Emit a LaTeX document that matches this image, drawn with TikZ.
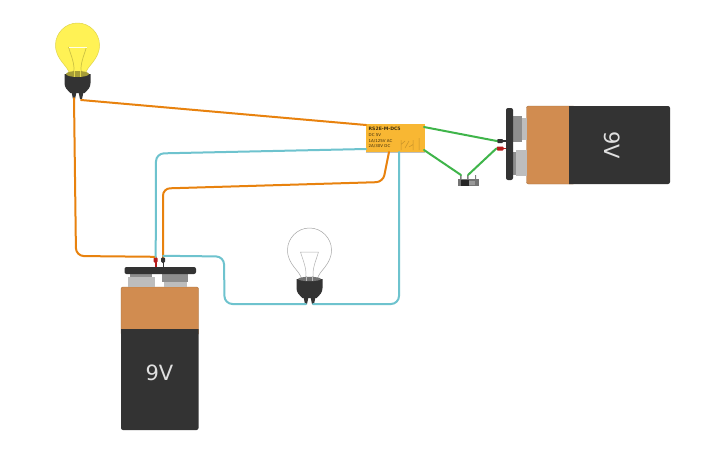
\documentclass[tikz,border=0pt]{standalone}
\usepackage{fontspec}
\setmainfont{DejaVu Sans}
\definecolor{wireO}{HTML}{E8820E}
\definecolor{wireT}{HTML}{6EC3CE}
\definecolor{wireG}{HTML}{3FB54A}
\definecolor{batDark}{HTML}{333333}
\definecolor{batTan}{HTML}{D18C50}
\definecolor{relayC}{HTML}{F8B733}
\definecolor{termA}{HTML}{8E8E8E}
\definecolor{termB}{HTML}{BDBDBD}
\definecolor{bulbY}{HTML}{FFF255}
\definecolor{redT}{HTML}{B71C1C}
\tikzset{
  wire/.style={line width=2pt,rounded corners=8pt,line cap=round},
  o/.style={wire,draw=wireO},
  t/.style={wire,draw=wireT},
  g/.style={wire,draw=wireG,rounded corners=0pt},
  lab/.style={inner sep=0pt,text=relayT,font=\fontsize{4}{4.6}\selectfont,anchor=west},
  batlab/.style={inner sep=0pt,text=white!88!black,font=\fontsize{21}{21}\selectfont},
  pt/.style={inner sep=0pt,minimum size=0pt},
}
\colorlet{relayT}{black!75!relayC}
\newcommand{\glassPath}{(-8,0) .. controls (-9,-8) and (-22,-14) .. (-22,-29) .. controls (-22,-41) and (-12,-51) .. (0,-51) .. controls (12,-51) and (22,-41) .. (22,-29) .. controls (22,-14) and (9,-8) .. (8,0)}
\newcommand{\filamentL}{(-4,2) -- (-3.5,-6) .. controls (-4,-14) and (-7,-20) .. (-9,-27)}
\newcommand{\filamentR}{(4,2) -- (3.5,-6) .. controls (4,-14) and (7,-20) .. (9,-27)}
\newcommand{\socketPath}{(-13,0) -- (13,0) -- (13,9) .. controls (13,14) and (10,16) .. (7,19) -- (-7,19) .. controls (-10,16) and (-13,14) .. (-13,9) -- cycle}
\begin{document}
\begin{tikzpicture}[x=1pt,y=-1pt]
\useasboundingbox (0,0) rectangle (725,453);
\fill[white] (0,0) rectangle (725,453);

% ---- yellow lamp
\begin{scope}[shift={(77.5,74)}]
  \fill[bulbY,draw=black!12!bulbY,line width=.5pt] \glassPath -- cycle;
  \draw[black!20!bulbY,line width=.7pt] \filamentL \filamentR;
  \draw[white!85!bulbY,line width=.7pt] (-9,-27) -- (9,-27);
  \fill[batDark] \socketPath;
  \fill[black!35!bulbY] (0,0) ellipse (11.5 and 3);
  \draw[black!10!bulbY,line width=.6pt] (-3,2.8) -- (-3,-3) (3,2.8) -- (3,-3);
  \fill[batDark] (-6,18) -- (-1,18) -- (-2.5,25) -- (-4.5,25) -- cycle;
  \fill[batDark] (1,18) -- (6,18) -- (4.5,25) -- (2.5,25) -- cycle;
\end{scope}
\coordinate (lampYa) at (74,98);
\coordinate (lampYb) at (81,100);

% ---- white lamp
\begin{scope}[shift={(309.5,279)}]
  \draw[black!35,line width=.5pt] \glassPath;
  \draw[black!30,line width=.5pt] \filamentL -- (9,-27) (4,2) -- (3.5,-6) .. controls (4,-14) and (7,-20) .. (9,-27);
  \fill[batDark] \socketPath;
  \fill[black!55] (0,0) ellipse (11.5 and 2.2);
  \draw[black!25,line width=.5pt] (-3,1.5) -- (-3,-3) (3,1.5) -- (3,-3);
  \fill[batDark] (-6,18) -- (-1,18) -- (-2.5,25) -- (-4.5,25) -- cycle;
  \fill[batDark] (1,18) -- (6,18) -- (4.5,25) -- (2.5,25) -- cycle;
\end{scope}
\coordinate (lampWa) at (306,304);
\coordinate (lampWb) at (313,304);

% ---- bottom battery
\fill[batTan,draw=black!20!batTan,line width=.4pt,rounded corners=2pt] (121,287) rectangle (198.5,335);
\fill[batDark] (121,329) -- (198.5,329) [rounded corners=2pt] -- (198.5,430) -- (121,430) [sharp corners] -- cycle;
\fill[termB] (128,277) rectangle (155,287);
\fill[termA] (130,274) rectangle (152,277);
\fill[termB] (164,282) rectangle (187,287);
\fill[termA] (162,273) rectangle (188,282);
\fill[batDark,rounded corners=2pt] (124.5,267) rectangle (196,274);
\node[batlab] (batB) at (159.5,373) {9V};
\fill[redT] (155,262) rectangle (157,267);
\fill[batDark] (162.5,262) rectangle (164,267);
\node[pt,fill=redT,minimum width=4pt,minimum height=6pt,rounded corners=1.5pt] (termR) at (155.7,260) {};
\node[pt,fill=batDark,minimum width=4pt,minimum height=6pt,rounded corners=1.5pt] (termK) at (163.2,260) {};

% ---- right battery
\fill[batTan,draw=black!20!batTan,line width=.4pt,rounded corners=2pt] (526.5,106) rectangle (575,184);
\fill[batDark] (569,184) -- (569,106) [rounded corners=2pt] -- (670,106) -- (670,184) [sharp corners] -- cycle;
\fill[termB] (522,118) rectangle (527,140);
\fill[termA] (513,116) rectangle (522,142);
\fill[termB] (516,150) rectangle (527,176);
\fill[termA] (513,152) rectangle (516,175);
\fill[batDark,rounded corners=2pt] (506,108) rectangle (513,180);
\node[batlab,rotate=-90] (batR) at (612,145) {9V};
\fill[batDark] (501,140.2) rectangle (506,141.6);
\fill[redT] (501,147.6) rectangle (506,149.4);
\node[pt,fill=batDark,minimum width=6pt,minimum height=4pt,rounded corners=1pt] (termRk) at (500,141) {};
\node[pt,fill=redT,minimum width=7pt,minimum height=4pt,rounded corners=1pt] (termRr) at (500,148.5) {};

% ---- slide switch
\fill[black!50] (460,175) rectangle (461.5,179) (467,175) rectangle (468.5,179) (475,175) rectangle (476,179);
\node[pt,fill=black!55,minimum width=21pt,minimum height=7pt] (sw) at (468.5,182.5) {};
\fill[black!85] (461,180) rectangle (469,185.5);
\fill[black!40] (469,180.5) rectangle (475,185);
\coordinate (swA) at (461,175);
\coordinate (swB) at (468,175);

% ---- relay
\node[pt,fill=relayC,minimum width=59pt,minimum height=29pt,anchor=north west] (relay) at (365.5,123.5) {};
\draw[black!25,line width=.4pt] (365.5,152.5) -- (424.5,152.5);
\node[lab,font=\bfseries\fontsize{4.6}{5}\selectfont] at (368.5,129) {RS2E-M-DC5};
\node[lab] at (368.5,135.5) {DC 5V};
\node[lab] at (368.5,141) {1A/125V AC};
\node[lab] at (368.5,146.5) {2A/30V  DC};
\draw[black!20!relayC,line width=.5pt] (401,140) -- (401,150) (413,140) -- (413,150) (401,144.5) -- (405,141) (405,148) -- (409,141) (409,147) -- (413,144.5) (419,138) -- (419,150);
\coordinate (relayTL) at (366,125);
\coordinate (relayBL) at (366,149);
\coordinate (relayBa) at (389,152);
\coordinate (relayBb) at (399,152);
\coordinate (relayTR) at (424,127);
\coordinate (relayBR) at (424,150);

% ---- wires
\draw[o] (lampYb) -- (relayTL);
\draw[o] (lampYa) -- (76,256) -- (termR.north);
\draw[o,rounded corners=7pt] (relayBa) -- (383,182) -- (163,188.5) -- (termK.north);
\draw[t] (relayBL) -- (156,153.5) -- (termR.north);
\draw[t] (termK.north) ++(0,-1) -- (224,256.5) -- (224.5,304) -- (lampWa);
\draw[t] (lampWb) -- (399,304) -- (relayBb);
\draw[g] (relayTR) -- (termRk.west);
\draw[g] (relayBR) -- (swA);
\draw[g] (swB) -- (termRr.west);
\end{tikzpicture}
\end{document}
